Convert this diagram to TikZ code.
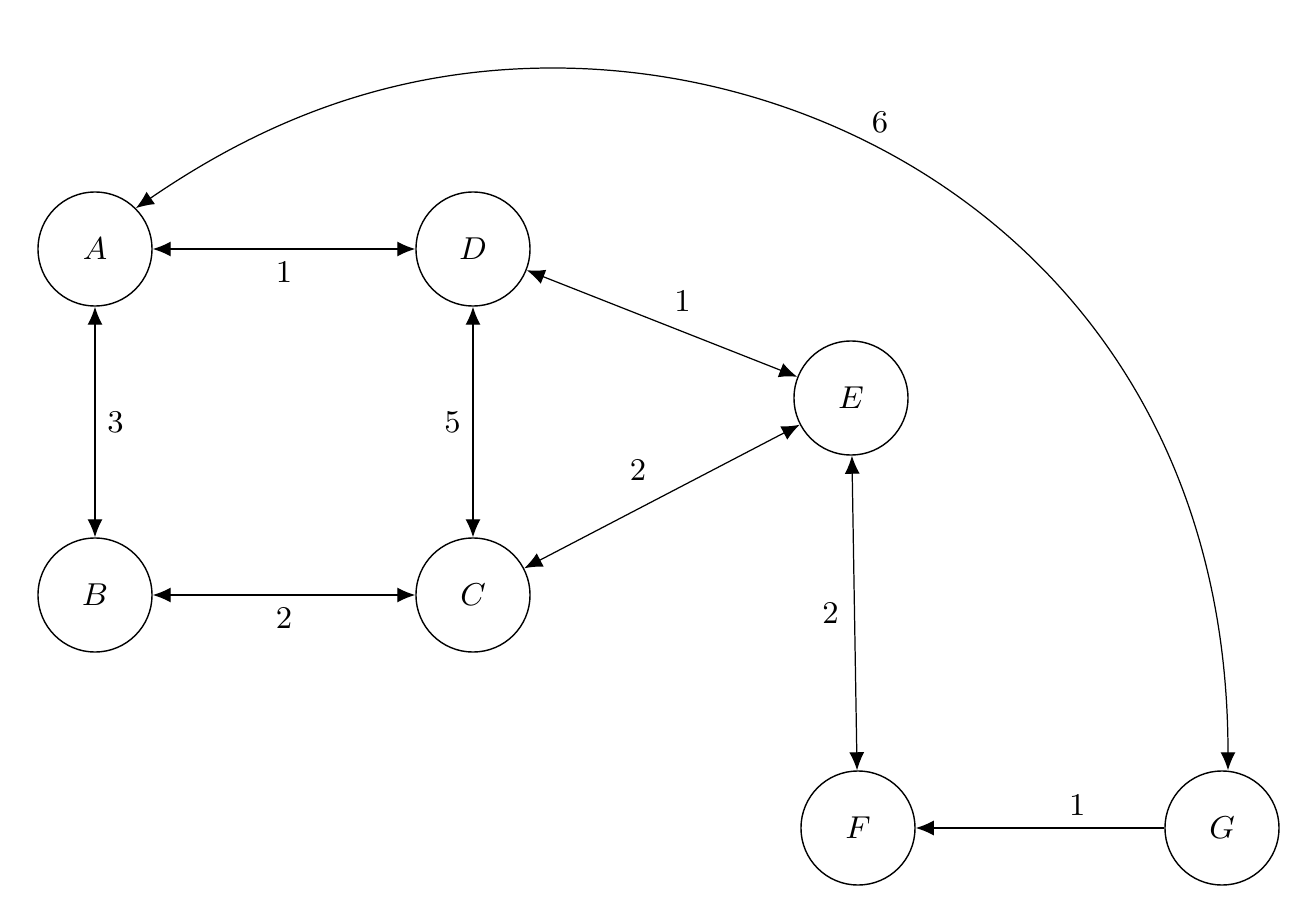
\documentclass[tikz,border=0pt]{standalone}
\usetikzlibrary{arrows.meta}
\begin{document}
\begin{tikzpicture}[x=0.01cm,y=-0.01cm,
  vert/.style={draw,circle,minimum size=1.14cm,inner sep=0pt,font=\fontsize{9}{11}\selectfont},
  lbl/.style={font=\fontsize{9}{11}\selectfont},
  edge/.style={{Latex[length=1.8mm,width=1.5mm]}-{Latex[length=1.8mm,width=1.5mm]},line width=0.35pt},
  oneway/.style={-{Latex[length=1.8mm,width=1.5mm]},line width=0.35pt}]
\useasboundingbox (0,0) rectangle (1302,915);
\node[vert] (A) at (95,249) {$A$};
\node[vert] (D) at (473,249) {$D$};
\node[vert] (E) at (851,398) {$E$};
\node[vert] (B) at (95,595) {$B$};
\node[vert] (C) at (473,595) {$C$};
\node[vert] (F) at (858,828) {$F$};
\node[vert] (G) at (1222,828) {$G$};
\draw[edge] (A) -- node[lbl,below=0pt]{1} (D);
\draw[edge] (A) -- node[lbl,right=0pt]{3} (B);
\draw[edge] (D) -- node[lbl,left=0pt]{5} (C);
\draw[edge] (B) -- node[lbl,below=0pt]{2} (C);
\draw[edge] (D) -- node[lbl,above right=0pt]{1} (E);
\draw[edge] (C) -- node[lbl,above left=1pt]{2} (E);
\draw[edge] (E) -- node[lbl,left=1pt]{2} (F);
\draw[oneway] (G) -- node[lbl,above=0pt, pos=0.35]{1} (F);
\coordinate (g0) at ([xshift=0.06cm]G.north);
\draw[edge] (g0) .. controls (1228,300) and (880,68) .. (553,68)
  .. controls (380,68) and (250,130) .. (A.north east);
\node[lbl] (six) at (880,122) {6};
\end{tikzpicture}
\end{document}
